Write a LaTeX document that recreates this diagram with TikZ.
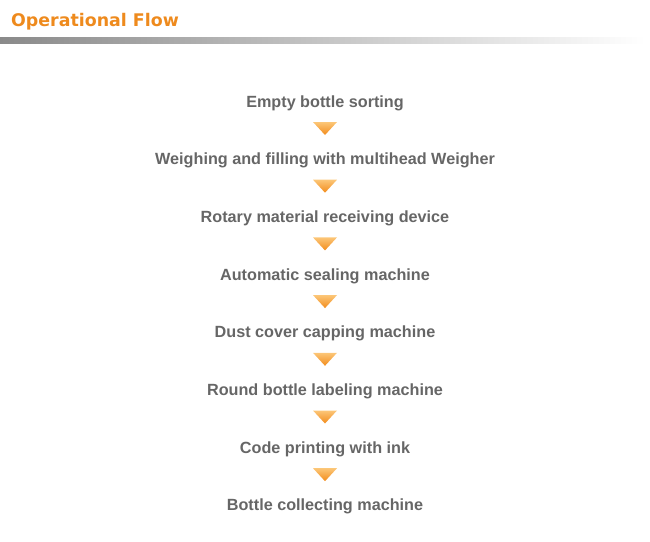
\documentclass[tikz,border=0pt]{standalone}
\usepackage{fontspec}
\setmainfont{Liberation Sans}
\newfontfamily\titlefont{DejaVu Sans}
\definecolor{steptext}{HTML}{666666}
\definecolor{titleorange}{HTML}{EE8A1D}
\definecolor{barGray}{HTML}{8A8A8A}
\definecolor{triTop}{HTML}{FCC677}
\definecolor{triBot}{HTML}{F28C1C}
\tikzset{
  stepnode/.style={anchor=base, inner sep=0pt, text=steptext, font=\fontsize{16.2}{18}\selectfont\bfseries},
  arrowtri/.style={top color=triTop, bottom color=triBot, draw=none},
}
\begin{document}
\begin{tikzpicture}[x=1pt,y=-1pt]
\useasboundingbox (0,0) rectangle (650,541);
\node[anchor=base west, inner sep=0pt, text=titleorange, font=\titlefont\fontsize{17.4}{20}\selectfont\bfseries] (title) at (11,26.5) {Operational Flow};
\path[left color=barGray, right color=white] (0,37) rectangle (645,43);
\coordinate (barend) at (645,43);
\node[stepnode] (s1) at (325,107) {Empty bottle sorting};
\node[stepnode] (s2) at (325,164.7) {Weighing and filling with multihead Weigher};
\node[stepnode] (s3) at (325,222.4) {Rotary material receiving device};
\node[stepnode] (s4) at (325,280.1) {Automatic sealing machine};
\node[stepnode] (s5) at (325,337.8) {Dust cover capping machine};
\node[stepnode] (s6) at (325,395.5) {Round bottle labeling machine};
\node[stepnode] (s7) at (325,453.2) {Code printing with ink};
\node[stepnode] (s8) at (325,510.9) {Bottle collecting machine};
\foreach \i in {0,...,6}{
  \pgfmathsetmacro{\ty}{122+57.7*\i}
  \path[arrowtri] (313,\ty) -- (337,\ty) -- (325,\ty+13) -- cycle;
}
\end{tikzpicture}
\end{document}
